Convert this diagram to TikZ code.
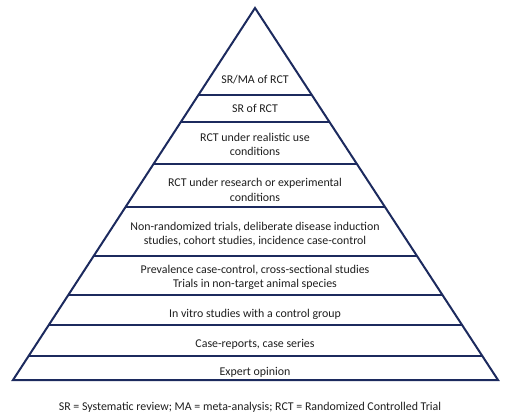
\documentclass[tikz,border=0pt]{standalone}
\usepackage{fontspec}
\setmainfont{Carlito}
\usetikzlibrary{calc}
\definecolor{pyrnavy}{HTML}{1C2A5E}
\definecolor{textdark}{HTML}{1E1E1E}
\tikzset{
  nivel/.style={font=\fontsize{11.9}{14.5}\selectfont, text=textdark, align=center, inner sep=0pt},
}

\begin{document}
\begin{tikzpicture}[x=1pt, y=-1pt]
  \useasboundingbox (0,0) rectangle (510,419);
  % Vertices de la piramide
  \coordinate (apex) at (255,8);
  \coordinate (bl) at (13,380);
  \coordinate (br) at (498,380);

  % Divisiones entre niveles
  \foreach \yy in {95,122,164,207,256,295,325,356} {
    \draw[line width=1.6pt, pyrnavy] ($(apex)!{(\yy-8)/372}!(bl)$) -- ($(apex)!{(\yy-8)/372}!(br)$);
  }
  % Contorno
  \draw[line width=2pt, pyrnavy, line join=miter] (apex) -- (bl) -- (br) -- cycle;

  % Textos de los niveles
  \node[nivel] (n1) at (255,80) {SR/MA of RCT};
  \node[nivel] (n2) at (255,108) {SR of RCT};
  \node[nivel] (n3) at (255,144.5) {RCT under realistic use\\conditions};
  \node[nivel] (n4) at (255,190) {RCT under research or experimental\\conditions};
  \node[nivel] (n5) at (255,234) {Non-randomized trials, deliberate disease induction\\studies, cohort studies, incidence case-control};
  \node[nivel] (n6) at (255,277.5) {Prevalence case-control, cross-sectional studies\\Trials in non-target animal species};
  \node[nivel] (n7) at (255,314) {In vitro studies with a control group};
  \node[nivel] (n8) at (255,344) {Case-reports, case series};
  \node[nivel] (n9) at (255,372) {Expert opinion};

  % Leyenda
  \node[nivel] (leyenda) at (250,407) {SR = Systematic review; MA = meta-analysis; RCT = Randomized Controlled Trial};
\end{tikzpicture}
\end{document}
